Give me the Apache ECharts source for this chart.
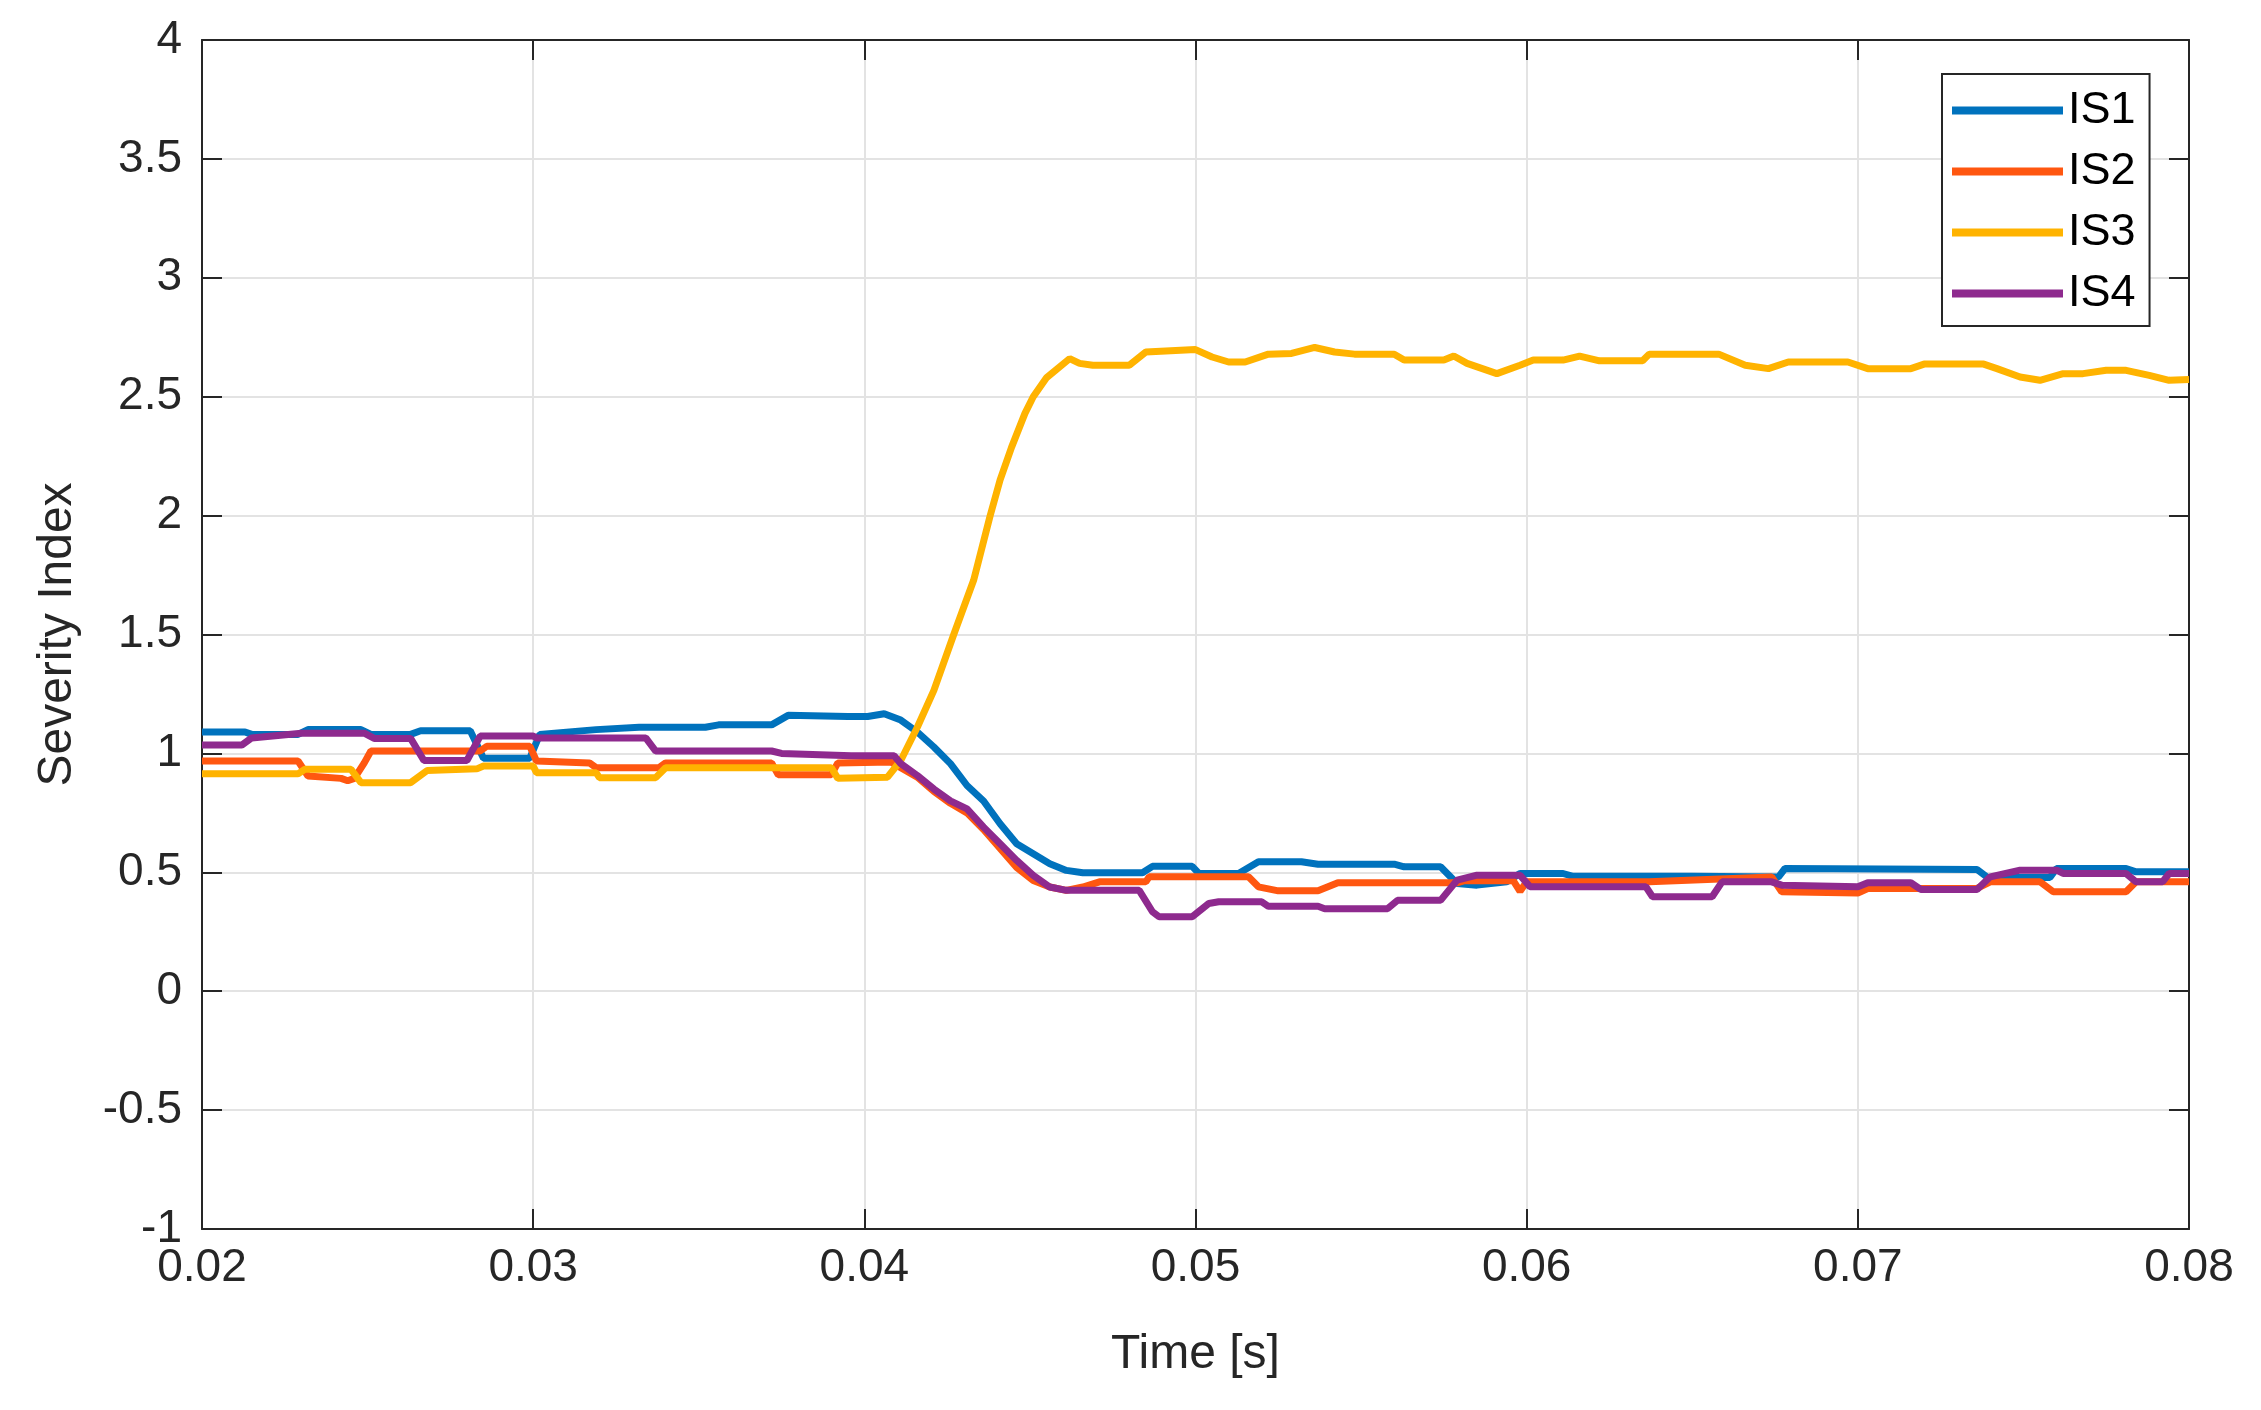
<!DOCTYPE html>
<html>
<head>
<meta charset="utf-8">
<script src="https://cdn.jsdelivr.net/npm/echarts@6/dist/echarts.min.js"></script>
<style>
  html, body { margin: 0; padding: 0; background: #fff; }
  #chart { width: 2261px; height: 1410px; }
</style>
</head>
<body>
<div id="chart"></div>
<script>
// values (time in s, severity index)
const seriesNames = ['IS1', 'IS2', 'IS3', 'IS4'];
const seriesColors = ['#0072BD', '#FF5710', '#FFB300', '#8E2A8E'];

const is1Time = [0.0200, 0.0213, 0.0215, 0.0229, 0.0232, 0.0248, 0.0251, 0.0263, 0.0266, 0.0281, 0.0285, 0.0299, 0.0302,
  0.0319, 0.0332, 0.0352, 0.0356, 0.0372, 0.0377, 0.0395, 0.0401, 0.0406, 0.0411, 0.0416, 0.0421, 0.0426, 0.0431, 0.0436,
  0.0441, 0.0446, 0.0451, 0.0456, 0.0461, 0.0466, 0.0484, 0.0487, 0.0499, 0.0501, 0.0513, 0.0519, 0.0532, 0.0537, 0.0560,
  0.0563, 0.0574, 0.0579, 0.0585, 0.0594, 0.0598, 0.0611, 0.0614, 0.0650, 0.0676, 0.0678, 0.0736, 0.0740, 0.0743, 0.0758,
  0.0760, 0.0781, 0.0784, 0.0800];
const is1Vals = [1.09, 1.09, 1.08, 1.08, 1.10, 1.10, 1.08, 1.08, 1.095, 1.095, 0.98, 0.98, 1.08,
  1.10, 1.11, 1.11, 1.12, 1.12, 1.16, 1.155, 1.155, 1.167, 1.14, 1.09, 1.027, 0.957, 0.865, 0.80,
  0.704, 0.62, 0.578, 0.536, 0.508, 0.498, 0.498, 0.525, 0.525, 0.495, 0.495, 0.544, 0.544, 0.534, 0.534,
  0.523, 0.523, 0.453, 0.446, 0.46, 0.495, 0.495, 0.483, 0.483, 0.48, 0.516, 0.512, 0.47, 0.478, 0.478,
  0.516, 0.516, 0.502, 0.502];

const is2Time = [0.0200, 0.0229, 0.0232, 0.0242, 0.0244, 0.0246, 0.0249, 0.0251, 0.0284, 0.0286, 0.0299, 0.0301, 0.0317,
  0.0319, 0.0338, 0.0340, 0.0372, 0.0374, 0.0390, 0.0392, 0.0408, 0.0411, 0.0416, 0.0421, 0.0426, 0.0431, 0.0436, 0.0441,
  0.0446, 0.0451, 0.0456, 0.0461, 0.0466, 0.0471, 0.0485, 0.0486, 0.0516, 0.0519, 0.0525, 0.0537, 0.0543, 0.0579, 0.0581,
  0.0596, 0.0598, 0.0600, 0.0637, 0.0674, 0.0677, 0.0700, 0.0703, 0.0736, 0.0740, 0.0755, 0.0759, 0.0781, 0.0784, 0.0800];
const is2Vals = [0.968, 0.968, 0.905, 0.895, 0.885, 0.895, 0.96, 1.01, 1.01, 1.03, 1.03, 0.968, 0.96,
  0.94, 0.94, 0.96, 0.96, 0.91, 0.91, 0.96, 0.964, 0.94, 0.90, 0.84, 0.79, 0.75, 0.68, 0.60,
  0.52, 0.466, 0.438, 0.424, 0.438, 0.46, 0.46, 0.481, 0.481, 0.439, 0.422, 0.422, 0.456, 0.456, 0.464,
  0.464, 0.42, 0.46, 0.46, 0.48, 0.418, 0.413, 0.432, 0.432, 0.46, 0.46, 0.418, 0.418, 0.46, 0.46];

const is3Time = [0.0200, 0.0229, 0.0231, 0.0245, 0.0248, 0.0263, 0.0268, 0.0283, 0.0285, 0.0300, 0.0301, 0.0319, 0.0320,
  0.0337, 0.0340, 0.0390, 0.0392, 0.0407, 0.0411, 0.0416, 0.0421, 0.0427, 0.0433, 0.0438, 0.0441, 0.04445, 0.04485, 0.0451,
  0.0455, 0.0462, 0.0465, 0.0469, 0.0480, 0.0485, 0.0500, 0.0505, 0.0510, 0.0515, 0.0522, 0.0529, 0.0536, 0.0542, 0.0548,
  0.0560, 0.0563, 0.0575, 0.0578, 0.0582, 0.0591, 0.0598, 0.0602, 0.0611, 0.0616, 0.0622, 0.0635, 0.0637, 0.0658, 0.0666,
  0.0673, 0.0679, 0.0697, 0.0703, 0.0716, 0.0720, 0.0738, 0.0742, 0.0749, 0.0755, 0.0762, 0.0768, 0.0775, 0.0781, 0.0788,
  0.0794, 0.0800];
const is3Vals = [0.914, 0.914, 0.933, 0.933, 0.877, 0.877, 0.928, 0.935, 0.947, 0.947, 0.919, 0.919, 0.898,
  0.898, 0.94, 0.94, 0.895, 0.90, 0.97, 1.11, 1.265, 1.50, 1.728, 2.0, 2.15, 2.289, 2.43, 2.5,
  2.58, 2.66, 2.64, 2.632, 2.632, 2.688, 2.698, 2.667, 2.646, 2.646, 2.679, 2.682, 2.707, 2.688, 2.679,
  2.679, 2.654, 2.654, 2.671, 2.64, 2.597, 2.632, 2.654, 2.654, 2.671, 2.651, 2.651, 2.679, 2.679, 2.632,
  2.618, 2.646, 2.646, 2.618, 2.618, 2.637, 2.637, 2.618, 2.583, 2.569, 2.597, 2.597, 2.611, 2.611, 2.59,
  2.569, 2.572];

const is4Time = [0.0200, 0.0212, 0.0215, 0.0230, 0.0249, 0.0252, 0.0263, 0.0267, 0.0280, 0.0284, 0.0300, 0.0301, 0.0334,
  0.0337, 0.0372, 0.0375, 0.0396, 0.0409, 0.0411, 0.0416, 0.0421, 0.0426, 0.0431, 0.0436, 0.0441, 0.0446, 0.0451, 0.0456,
  0.0461, 0.0483, 0.0487, 0.0489, 0.0499, 0.0504, 0.0507, 0.0520, 0.0522, 0.0537, 0.0539, 0.0558, 0.0561, 0.0574, 0.0579,
  0.0585, 0.0598, 0.0601, 0.0636, 0.0638, 0.0656, 0.0659, 0.0674, 0.0677, 0.0700, 0.0703, 0.0716, 0.0719, 0.0736, 0.0740,
  0.0749, 0.0760, 0.0762, 0.0781, 0.0784, 0.0792, 0.0794, 0.0800];
const is4Vals = [1.035, 1.035, 1.065, 1.085, 1.085, 1.063, 1.063, 0.97, 0.97, 1.073, 1.073, 1.065, 1.065,
  1.01, 1.01, 1.0, 0.99, 0.99, 0.957, 0.907, 0.85, 0.80, 0.767, 0.69, 0.62, 0.55, 0.487, 0.438,
  0.424, 0.424, 0.334, 0.313, 0.313, 0.369, 0.376, 0.376, 0.357, 0.357, 0.347, 0.347, 0.382, 0.382, 0.467,
  0.488, 0.488, 0.439, 0.439, 0.397, 0.397, 0.46, 0.46, 0.446, 0.439, 0.456, 0.456, 0.428, 0.428, 0.481,
  0.509, 0.509, 0.495, 0.495, 0.46, 0.46, 0.495, 0.495];

const xTicks = [0.02, 0.03, 0.04, 0.05, 0.06, 0.07, 0.08];
const yTicks = [-1, -0.5, 0, 0.5, 1, 1.5, 2, 2.5, 3, 3.5, 4];

const allTimes = [is1Time, is2Time, is3Time, is4Time];
const allVals = [is1Vals, is2Vals, is3Vals, is4Vals];

const font = 'Liberation Sans, Arial, Helvetica, sans-serif';
const axisColor = '#262626';

const chart = echarts.init(document.getElementById('chart'), null, { renderer: 'canvas' });

function boxAxis(extra) {
  return Object.assign({
    type: 'value',
    axisLine: { show: true, onZero: false, lineStyle: { color: axisColor, width: 2 } },
    axisTick: { show: true, inside: true, length: 20, lineStyle: { color: axisColor, width: 2 } },
    axisLabel: { show: false },
    splitLine: { show: false }
  }, extra);
}

const option = {
  backgroundColor: '#ffffff',
  animation: false,
  grid: { left: 202, right: 72, top: 40, bottom: 181, containLabel: false },
  legend: {
    data: seriesNames.map(n => ({ name: n, icon: 'rect' })),
    orient: 'vertical',
    left: 1942,
    top: 74,
    padding: [14, 14, 10, 10],
    itemWidth: 111,
    itemHeight: 8,
    itemGap: 16,
    backgroundColor: '#ffffff',
    borderColor: axisColor,
    borderWidth: 2,
    borderRadius: 0,
    textStyle: { fontFamily: font, fontSize: 45, color: '#000', padding: [0, 0, 0, 0] }
  },
  xAxis: [
    boxAxis({
      min: xTicks[0], max: xTicks[xTicks.length - 1], interval: 0.01,
      position: 'bottom',
      name: 'Time [s]', nameLocation: 'middle', nameGap: 102,
      nameTextStyle: { fontFamily: font, fontSize: 48, color: axisColor },
      axisLabel: {
        show: true, margin: 16, fontFamily: font, fontSize: 46, color: axisColor,
        formatter: v => v.toFixed(2)
      },
      splitLine: { show: true, lineStyle: { color: '#e3e3e3', width: 2 } }
    }),
    boxAxis({ min: xTicks[0], max: xTicks[xTicks.length - 1], interval: 0.01, position: 'top' })
  ],
  yAxis: [
    boxAxis({
      min: yTicks[0], max: yTicks[yTicks.length - 1], interval: 0.5,
      position: 'left',
      name: 'Severity Index', nameLocation: 'middle', nameGap: 120, nameRotate: 90,
      nameTextStyle: { fontFamily: font, fontSize: 48, color: axisColor },
      axisLabel: {
        show: true, margin: 20, fontFamily: font, fontSize: 46, color: axisColor,
        formatter: v => String(Math.round(v * 10) / 10)
      },
      splitLine: { show: true, lineStyle: { color: '#e3e3e3', width: 2 } }
    }),
    boxAxis({ min: yTicks[0], max: yTicks[yTicks.length - 1], interval: 0.5, position: 'right' })
  ],
  series: seriesNames.map((name, i) => ({
    name: name,
    type: 'line',
    xAxisIndex: 0,
    yAxisIndex: 0,
    symbol: 'none',
    showSymbol: false,
    smooth: false,
    color: seriesColors[i],
    itemStyle: { color: seriesColors[i] },
    lineStyle: { color: seriesColors[i], width: 7 },
    data: allTimes[i].map((t, k) => [t, allVals[i][k]])
  }))
};

chart.setOption(option);
</script>
</body>
</html>
